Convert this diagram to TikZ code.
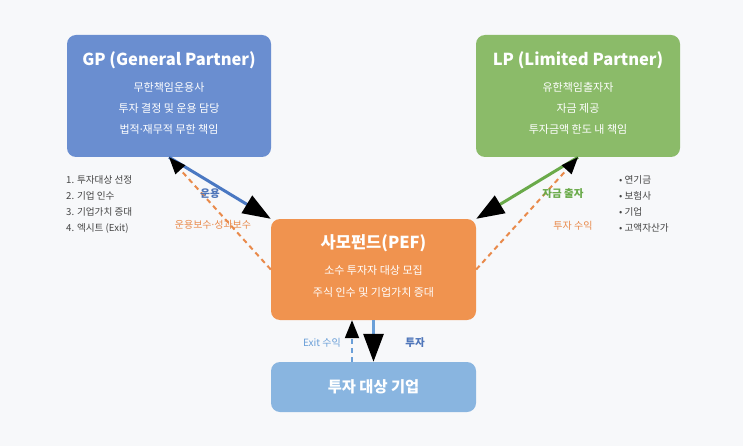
\documentclass[tikz,border=0pt]{standalone}
\usepackage{fontspec}
\setmainfont{Noto Sans CJK KR}
\newfontfamily\latf{Noto Sans}
\newcommand{\mdt}{{\latf ·}}
\usetikzlibrary{arrows.meta}
\definecolor{bg}{HTML}{F7F8FA}
\definecolor{gpc}{HTML}{6A8ED0}
\definecolor{lpc}{HTML}{8BBB69}
\definecolor{pefc}{HTML}{F0934F}
\definecolor{tgc}{HTML}{89B5E0}
\definecolor{blueline}{HTML}{4A78C2}
\definecolor{greenline}{HTML}{6AAA4A}
\definecolor{orangeline}{HTML}{E98A4B}
\definecolor{lblue}{HTML}{6A9FD8}
\definecolor{listc}{HTML}{444444}
\definecolor{bluetxt}{HTML}{4F76BA}
\begin{document}
\begin{tikzpicture}[x=1pt,y=-1pt,
  box/.style={rounded corners=9pt, draw=none, inner sep=0pt},
  ttl/.style={text=white, font=\fontsize{16.5}{20}\selectfont\bfseries, inner sep=0pt},
  bdy/.style={text=white, font=\fontsize{11}{13}\selectfont, inner sep=0pt},
  lst/.style={text=listc, font=\fontsize{9.6}{12}\selectfont, inner sep=0pt, anchor=west},
  lbl/.style={font=\fontsize{10}{12}\selectfont, inner sep=0pt},
  bigtip/.style={-{Triangle[length=28pt,width=20pt,color=black]}},
  smalltip/.style={-{Triangle[length=17pt,width=13pt,color=black]}},
  orangedash/.style={orangeline, line width=2pt, dash pattern=on 5pt off 4pt}
]
\fill[bg] (0,0) rectangle (743,446);
\useasboundingbox (0,0) rectangle (743,446);

% boxes
\node[box, fill=gpc, minimum width=204pt, minimum height=122pt] (gp) at (169,96) {};
\node[box, fill=lpc, minimum width=204pt, minimum height=122pt] (lp) at (578,96) {};
\node[box, fill=pefc, minimum width=205pt, minimum height=101pt] (pef) at (373.5,269.5) {};
\node[box, fill=tgc, minimum width=205pt, minimum height=50pt] (tg) at (373.5,387) {};

% GP text
\node[ttl] (gpt) at (169,60) {GP (General Partner)};
\node[bdy] (gp1) at (169,87) {무한책임운용사};
\node[bdy] (gp2) at (169,108) {투자 결정 및 운용 담당};
\node[bdy] (gp3) at (169,129) {법적\mdt 재무적 무한 책임};

% LP text
\node[ttl] (lpt) at (578,60) {LP (Limited Partner)};
\node[bdy] (lp1) at (578,87) {유한책임출자자};
\node[bdy] (lp2) at (578,108) {자금 제공};
\node[bdy] (lp3) at (578,129) {투자금액 한도 내 책임};

% PEF text
\node[ttl] (peft) at (373.5,243) {사모펀드(PEF)};
\node[bdy] (pef1) at (373.5,270) {소수 투자자 대상 모집};
\node[bdy] (pef2) at (373.5,292) {주식 인수 및 기업가치 증대};

% target text
\node[text=white, font=\fontsize{15.3}{18}\selectfont\bfseries, inner sep=0pt] (tgt) at (373.5,387) {투자 대상 기업};

% lists
\node[lst] (l1) at (66,180) {1. 투자대상 선정};
\node[lst] (l2) at (66,196) {2. 기업 인수};
\node[lst] (l3) at (66,212) {3. 기업가치 증대};
\node[lst] (l4) at (66,228) {4. 엑시트 (Exit)};
\node[lst] (r1) at (619,180) {• 연기금};
\node[lst] (r2) at (619,196) {• 보험사};
\node[lst] (r3) at (619,212) {• 기업};
\node[lst] (r4) at (619,228) {• 고액자산가};

% GP <-> PEF
\draw[blueline, line width=3pt, bigtip] (gp.south) -- (pef.north west);
\draw[orangedash, smalltip] (pef.west) -- (gp.south);
% LP <-> PEF
\draw[greenline, line width=3pt, bigtip] (lp.south) -- (pef.north east);
\draw[orangedash, smalltip] (pef.east) -- (lp.south);
% PEF <-> target
\draw[lblue, line width=3pt, bigtip] (pef.south) -- (tg.north);
\draw[lblue, line width=2pt, dash pattern=on 5pt off 4pt, -{Triangle[length=18pt,width=14pt,color=black]}] ([xshift=-21.5pt]tg.north) -- ([xshift=-21.5pt]pef.south);

% labels
\node[lbl, text=bluetxt, font=\fontsize{10.5}{12}\selectfont\bfseries] (lbA) at (210,194) {운용};
\node[lbl, text=orangeline] (lbB) at (213,225) {운용보수\mdt 성과보수};
\node[lbl, text=greenline, font=\fontsize{10.5}{12}\selectfont\bfseries] (lbC) at (563,194) {자금 출자};
\node[lbl, text=orangeline] (lbD) at (573,226) {투자 수익};
\node[lbl, text=lblue] (lbE) at (322,343) {Exit 수익};
\node[lbl, text=bluetxt, font=\fontsize{10.5}{12}\selectfont\bfseries] (lbF) at (415,343) {투자};
\end{tikzpicture}
\end{document}
